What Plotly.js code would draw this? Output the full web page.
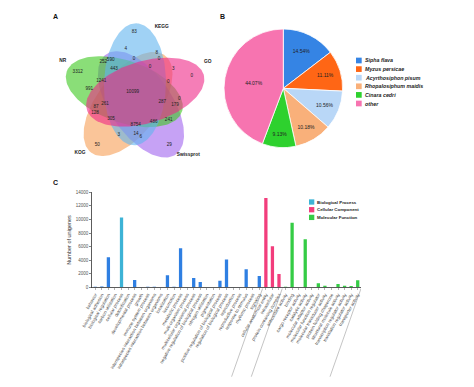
<!DOCTYPE html>
<html><head><meta charset="utf-8">
<script src="https://cdn.plot.ly/plotly-3.0.1.min.js"></script>
<style>html,body{margin:0;padding:0;background:#fff}#chart{width:474px;height:387px}</style>
</head><body><div id="chart"></div>
<script>
// ---------------- DATA ----------------
const vennSets = ['KEGG', 'GO', 'Swissprot', 'KOG', 'NR'];
const vennCounts = ['83','4','8','0','252','590','0','3312','443','0','3','0','1241','10099','0','991','261','287','0','87','179','128','305','8754','486','241','3','14','6','50','29'];

const pieSpecies = ['Sipha flava','Myzus persicae','Acyrthosiphon pisum','Rhopalosiphum maidis','Cinara cedri','other'];
const piePercent = [14.54, 11.11, 10.56, 10.18, 9.13, 44.07];

const goGroups = ['Biological Process','Cellular Component','Molecular Function'];
const bpTerms = ['behavior','biological adhesion','biological regulation','carbon utilization','cellular process','detoxification','developmental process','growth','immune system process','interspecies interaction between organisms','intraspecies interaction between organisms','localization','locomotion','metabolic process','multi-organism process','multicellular organismal process','negative regulation of biological process','nitrogen utilization','pigmentation','positive regulation of biological process','regulation of biological process','reproduction','reproductive process','response to stimulus','rhythmic process','signaling'];
const bpCounts = [120,130,4450,15,10300,25,1100,30,120,110,15,1790,100,5760,20,1400,800,10,15,1000,4100,30,30,2670,20,1690];
const ccTerms = ['cellular anatomical entity','intracellular','protein-containing complex'];
const ccCounts = [13150,6050,1970];
const mfTerms = ['antioxidant activity','binding','cargo receptor activity','catalytic activity','molecular adaptor activity','molecular function regulator','molecular transducer activity','protein folding chaperone','structural molecule activity','transcription regulator activity','translation regulator activity','transporter activity'];
const mfCounts = [110,9520,15,7080,15,620,270,15,510,270,220,1060];

// ---------------- LAYOUT HELPERS ----------------
const W = 474, H = 387;
const px = v => v / W, py = v => 1 - v / H;
const FONT = 'Liberation Sans, Arial, sans-serif';

// Venn geometry (pixel units within panel A)
const vennC = [134.7, 95.3], petal0 = 88.7, semiA = 61, semiB = 31, offD = 11;
const vennFill = ['rgba(97,180,238,0.6)','rgba(238,40,135,0.6)','rgba(160,100,238,0.6)','rgba(247,158,85,0.6)','rgba(60,200,30,0.6)'];
const drawOrder = [3, 2, 4, 0, 1];
const setLabelPos = [[161.7,26.7],[207.7,62.3],[188.3,155],[80,153.3],[62.7,61]];
const countPos = [[134.3,32.3],[125.7,49.3],[156.7,53.3],[159,58.7],[103.3,62.3],[110.7,60],[134,59.3],[77.7,71.7],[114,69],[150,66.7],[173.3,69],[191.7,76],[101.3,81],[132.7,91.7],[168.3,81.7],[89.3,89.3],[105,103.7],[162.3,101.7],[179.3,99.3],[96,107.3],[175,105],[95,112.7],[111,119.3],[135.7,125],[153.7,122],[168.7,120],[118.7,135],[136,134.3],[140.7,136.7],[97.3,145],[169.3,145]];

function ellipse(k) {
  const phi = (petal0 - 72 * k) * Math.PI / 180;
  const cx = vennC[0] + offD * Math.cos(phi), cy = vennC[1] - offD * Math.sin(phi);
  const xs = [], ys = [];
  for (let i = 0; i <= 160; i++) {
    const t = 2 * Math.PI * i / 160;
    const u = semiA * Math.cos(t), v = semiB * Math.sin(t);
    xs.push(cx + u * Math.cos(phi) - v * Math.sin(phi));
    ys.push(cy - (u * Math.sin(phi) + v * Math.cos(phi)));
  }
  return {xs, ys};
}

const traces = [];
drawOrder.forEach(k => {
  const e = ellipse(k);
  traces.push({type:'scatter', x:e.xs, y:e.ys, xaxis:'x2', yaxis:'y2', mode:'lines', fill:'toself',
    fillcolor: vennFill[k], line:{width:0}, hoverinfo:'skip', showlegend:false});
});
traces.push({type:'scatter', xaxis:'x2', yaxis:'y2', mode:'text', x:countPos.map(p=>p[0]), y:countPos.map(p=>p[1]),
  text:vennCounts, textfont:{size:4.6, color:'#222', family:FONT}, hoverinfo:'skip', showlegend:false});
traces.push({type:'scatter', xaxis:'x2', yaxis:'y2', mode:'text', x:setLabelPos.map(p=>p[0]), y:setLabelPos.map(p=>p[1]),
  text:vennSets, textfont:{size:4.8, color:'#222', family:FONT, weight:'bold'}, hoverinfo:'skip', showlegend:false});

// Pie
const pieColors = ['#3584e4','#ff6615','#b9d7f7','#f9b07a','#2ed12e','#f774b0'];
traces.push({type:'pie', labels:pieSpecies, values:piePercent, sort:false, direction:'clockwise', rotation:0,
  domain:{x:[px(224), px(342.6)], y:[py(147.6), py(29)]},
  text: piePercent.map(v => v.toFixed(2) + '%'), textinfo:'text', textposition:'inside', insidetextorientation:'horizontal',
  textfont:{size:5, color:'#222', family:FONT}, marker:{colors:pieColors, line:{color:'#fff', width:0.8}},
  hoverinfo:'skip', showlegend:false});

// Bars
const barDark = '#2f7fe2', barLight = '#3db3d6', groupColors = ['#3db3d6','#f23d7c','#35cc45'];
traces.push({type:'bar', x:bpTerms, y:bpCounts, xaxis:'x', yaxis:'y', name:goGroups[0],
  marker:{color: bpTerms.map(t => t === 'cellular process' ? barLight : barDark)}, hoverinfo:'skip', showlegend:false});
traces.push({type:'bar', x:ccTerms, y:ccCounts, xaxis:'x', yaxis:'y', name:goGroups[1],
  marker:{color: groupColors[1]}, hoverinfo:'skip', showlegend:false});
traces.push({type:'bar', x:mfTerms, y:mfCounts, xaxis:'x', yaxis:'y', name:goGroups[2],
  marker:{color: groupColors[2]}, hoverinfo:'skip', showlegend:false});

const nCat = bpTerms.length + ccTerms.length + mfTerms.length;
const barX0 = 92, barX1 = 361;
const unitPx = (barX1 - barX0) / nCat;

const shapes = [], annotations = [];
// panel letters
[['A',55,16],['B',222.7,16],['C',55,182.5]].forEach(([t,x,y]) => annotations.push({text:'<b>'+t+'</b>', x:px(x), y:py(y),
  xref:'paper', yref:'paper', showarrow:false, font:{size:7, color:'#111', family:FONT}, xanchor:'center', yanchor:'middle'}));

// pie legend
pieSpecies.forEach((s, i) => {
  const yc = 60.5 + i * 8.6;
  shapes.push({type:'rect', xref:'paper', yref:'paper', x0:px(356), x1:px(361.7), y0:py(yc+2.85), y1:py(yc-2.85),
    fillcolor:pieColors[i], line:{width:0}});
  annotations.push({text:'<b><i>'+s+'</i></b>', x:px(362.5), y:py(yc), xref:'paper', yref:'paper', showarrow:false,
    xanchor:'left', yanchor:'middle', font:{size:5.3, color:'#222', family:FONT}});
});
// bar legend
goGroups.forEach((g, i) => {
  const yc = 202 + i * 7.7;
  shapes.push({type:'rect', xref:'paper', yref:'paper', x0:px(309), x1:px(314.3), y0:py(yc+2.65), y1:py(yc-2.65),
    fillcolor:groupColors[i], line:{width:0}});
  annotations.push({text:'<b>'+g+'</b>', x:px(315.3), y:py(yc), xref:'paper', yref:'paper', showarrow:false,
    xanchor:'left', yanchor:'middle', font:{size:4.4, color:'#222', family:FONT}});
});
// group bracket lines
const bounds = [bpTerms.length - 0.5, bpTerms.length + ccTerms.length - 0.5, nCat - 0.5];
bounds.forEach(b => shapes.push({type:'line', xref:'x', yref:'paper', x0:b, y0:py(288.5), x1:b - 31/unitPx, y1:py(376.7),
  line:{color:'#888', width:0.5}}));

const layout = {
  width:W, height:H, margin:{l:0,r:0,t:0,b:0}, paper_bgcolor:'#fff', plot_bgcolor:'rgba(0,0,0,0)',
  font:{family:FONT}, barmode:'overlay', bargap:0.5, showlegend:false,
  xaxis:{domain:[px(barX0), px(barX1)], range:[-0.5, nCat - 0.5], type:'category', tickangle:-60,
    tickfont:{size:4.5, color:'#444', family:FONT}, showline:true, linecolor:'#333', linewidth:0.8,
    ticks:'outside', ticklen:2, tickwidth:0.5, tickcolor:'#666', showgrid:false, automargin:false, anchor:'y', fixedrange:true},
  yaxis:{domain:[py(287.5), py(192.3)], range:[0,14000], dtick:2000, tickformat:'d', showline:true, linecolor:'#333', linewidth:0.8,
    ticks:'outside', ticklen:2, tickwidth:0.6, tickcolor:'#333', tickfont:{size:4.5, color:'#555', family:FONT},
    showgrid:false, zeroline:false, automargin:false, anchor:'x', fixedrange:true,
    title:{text:'Number of unigenes', font:{size:5.5, color:'#333', family:FONT}, standoff:3}},
  xaxis2:{domain:[px(40), px(225)], range:[40,225], visible:false, anchor:'y2', fixedrange:true},
  yaxis2:{domain:[py(170), py(10)], range:[170,10], visible:false, anchor:'x2', fixedrange:true},
  shapes, annotations
};
Plotly.newPlot('chart', traces, layout, {staticPlot:true, displayModeBar:false});
</script></body></html>
